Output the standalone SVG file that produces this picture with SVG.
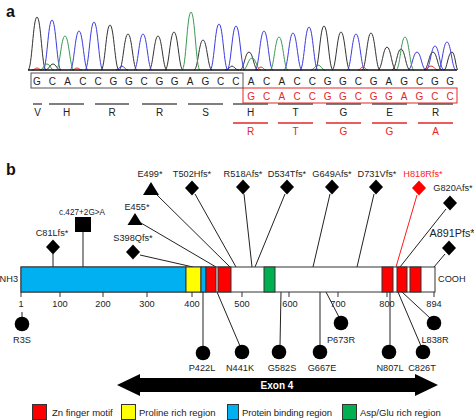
<svg xmlns="http://www.w3.org/2000/svg" width="474" height="420" viewBox="0 0 474 420">
<style>
text{font-family:"Liberation Sans",Arial,sans-serif;fill:#222}
.lbl{font-size:9.2px;text-anchor:middle}
.seq{font-size:10px;text-anchor:middle;fill:#333}
.red{fill:#e52626}
.pk{fill:none;stroke-width:1}
.k{stroke:#333}
.b{stroke:#3b3be0}
.g{stroke:#3a9a50}
.r{stroke:#e03030}
.stem{stroke:#222;stroke-width:1;fill:none}
.reg{stroke:#333;stroke-width:1}
</style>
<defs>
<path id="dia" d="M0,-7.5 L7,0 L0,7.5 L-7,0 Z"/>
</defs>
<text x="6" y="17" style="font-size:16px;font-weight:bold;fill:#111">a</text>
<g id="chromatogram">
<g class="pk k">
<path d="M28,70 C32,70 33,17 37,17 C41,17 42,70 46,70"/>
<path d="M101,70 C105,70 106,25 110,25 C114,25 115,70 119,70"/>
<path d="M119,70 C123,70 124,34 128,34 C132,34 133,70 137,70"/>
<path d="M149,70 C153,70 154,36 158,36 C162,36 163,70 167,70"/>
<path d="M165,70 C169,70 170,32 174,32 C178,32 179,70 183,70"/>
<path d="M194,70 C198,70 199,40 203,40 C207,40 208,70 212,70"/>
<path d="M240,70 C244,70 245,52 249,52 C253,52 254,70 258,70"/>
<path d="M315,70 C319,70 320,26 324,26 C328,26 329,70 333,70"/>
<path d="M332,70 C336,70 337,32 341,32 C345,32 346,70 350,70"/>
<path d="M362,70 C366,70 367,33 371,33 C375,33 376,70 380,70"/>
<path d="M378,70 C382,70 383,47 387,47 C391,47 392,70 396,70"/>
<path d="M392,70 C396,70 397,49 401,49 C405,49 406,70 410,70"/>
<path d="M424,70 C428,70 429,52 433,52 C437,52 438,70 442,70"/>
<path d="M444,70 C447,70 448,52 452,52 C455,52 456,70 458,70"/>
<path d="M45,70 C49,70 50,64 53,64 C56,64 57,70 61,70"/>
<path d="M225,70 C229,70 230,66 232,66 C234,66 235,70 239,70"/>
</g>
<g class="pk b">
<path d="M43,70 C47,70 48,20 52,20 C56,20 57,70 61,70"/>
<path d="M70,70 C74,70 75,31 79,31 C83,31 84,70 88,70"/>
<path d="M85,70 C89,70 90,22 94,22 C98,22 99,70 103,70"/>
<path d="M134,70 C138,70 139,34 143,34 C147,34 148,70 152,70"/>
<path d="M210,70 C214,70 215,24 219,24 C223,24 224,70 228,70"/>
<path d="M227,70 C231,70 232,26 236,26 C240,26 241,70 245,70"/>
<path d="M255,70 C259,70 260,31 264,31 C268,31 269,70 273,70"/>
<path d="M284,70 C288,70 289,33 293,33 C297,33 298,70 302,70"/>
<path d="M300,70 C304,70 305,27 309,27 C313,27 314,70 318,70"/>
<path d="M347,70 C351,70 352,34 356,34 C360,34 361,70 365,70"/>
<path d="M408,70 C412,70 413,52 417,52 C421,52 422,70 426,70"/>
<path d="M426,70 C430,70 431,46 435,46 C439,46 440,70 444,70"/>
<path d="M438,70 C442,70 443,42 447,42 C451,42 452,70 456,70"/>
<path d="M116,70 C119,70 120,66 122,66 C124,66 125,70 128,70"/>
</g>
<g class="pk g">
<path d="M56,70 C60,70 61,36 65,36 C69,36 70,70 74,70"/>
<path d="M182,70 C186,70 187,12 191,12 C195,12 196,70 200,70"/>
<path d="M270,70 C274,70 275,37 279,37 C283,37 284,70 288,70"/>
<path d="M396,70 C400,70 401,37 405,37 C409,37 410,70 414,70"/>
<path d="M40,70 C43,70 44,64 47,64 C50,64 51,70 54,70"/>
<path d="M243,70 C247,70 248,58 252,58 C256,58 257,70 261,70"/>
<path d="M311,70 C314,70 315,65 318,65 C321,65 322,70 325,70"/>
</g>
<g class="pk r">
<path d="M32,70 C34,70 35,68 37,68 C39,68 40,70 42,70"/>
<path d="M72,70 C74,70 75,68 77,68 C79,68 80,70 82,70"/>
<path d="M256,70 C258,70 259,67 261,67 C263,67 264,70 266,70"/>
<path d="M358,70 C360,70 361,67 363,67 C365,67 366,70 368,70"/>
<path d="M424,70 C427,70 428,66 431,66 C434,66 435,70 438,70"/>
</g>
<line x1="28" y1="70" x2="457" y2="70" stroke="#111" stroke-width="1.6"/>
</g>
<g id="sequence">
<rect x="31" y="73" width="212" height="15" fill="none" stroke="#555" stroke-width="1"/>
<rect x="243" y="88" width="214" height="15" fill="none" stroke="#e52626" stroke-width="1"/>
<g class="seq">
<text x="37" y="85">G</text><text x="52.3" y="85">C</text><text x="67.6" y="85">A</text><text x="82.9" y="85">C</text><text x="98.2" y="85">C</text><text x="113.5" y="85">G</text><text x="128.8" y="85">G</text><text x="144.1" y="85">C</text><text x="159.4" y="85">G</text><text x="174.7" y="85">G</text><text x="190" y="85">A</text><text x="205.3" y="85">G</text><text x="220.6" y="85">C</text><text x="235.9" y="85">C</text>
<text x="251.2" y="85">A</text><text x="266.5" y="85">C</text><text x="281.8" y="85">A</text><text x="297.1" y="85">C</text><text x="312.4" y="85">C</text><text x="327.7" y="85">G</text><text x="343" y="85">G</text><text x="358.3" y="85">C</text><text x="373.6" y="85">G</text><text x="388.9" y="85">A</text><text x="404.2" y="85">G</text><text x="419.5" y="85">C</text><text x="434.8" y="85">G</text><text x="450.1" y="85">G</text>
</g>
<g class="seq">
<text x="251.2" y="100" class="red">G</text><text x="266.5" y="100" class="red">C</text><text x="281.8" y="100" class="red">A</text><text x="297.1" y="100" class="red">C</text><text x="312.4" y="100" class="red">C</text><text x="327.7" y="100" class="red">G</text><text x="343" y="100" class="red">G</text><text x="358.3" y="100" class="red">C</text><text x="373.6" y="100" class="red">G</text><text x="388.9" y="100" class="red">G</text><text x="404.2" y="100" class="red">A</text><text x="419.5" y="100" class="red">G</text><text x="434.8" y="100" class="red">C</text><text x="450.1" y="100" class="red">C</text>
</g>
<g stroke="#555" stroke-width="1.5">
<line x1="33" y1="104" x2="42" y2="104"/><line x1="49" y1="104" x2="84" y2="104"/><line x1="95" y1="104" x2="129" y2="104"/><line x1="142" y1="104" x2="177" y2="104"/><line x1="188" y1="104" x2="223" y2="104"/><line x1="233" y1="104" x2="268" y2="104"/><line x1="278" y1="104" x2="313" y2="104"/><line x1="326" y1="104" x2="361" y2="104"/><line x1="372" y1="104" x2="407" y2="104"/><line x1="418" y1="104" x2="453" y2="104"/>
</g>
<g class="seq">
<text x="37.5" y="116">V</text><text x="66.5" y="116">H</text><text x="112" y="116">R</text><text x="159.5" y="116">R</text><text x="205.5" y="116">S</text><text x="250.5" y="116">H</text><text x="295.5" y="116">T</text><text x="343.5" y="116">G</text><text x="389.5" y="116">E</text><text x="435.5" y="116">R</text>
</g>
<g stroke="#e52626" stroke-width="1.5">
<line x1="233" y1="123" x2="268" y2="123"/><line x1="278" y1="123" x2="313" y2="123"/><line x1="326" y1="123" x2="361" y2="123"/><line x1="372" y1="123" x2="407" y2="123"/><line x1="418" y1="123" x2="453" y2="123"/>
</g>
<g class="seq">
<text x="250.5" y="135" class="red">R</text><text x="295.5" y="135" class="red">T</text><text x="343.5" y="135" class="red">G</text><text x="389.5" y="135" class="red">G</text><text x="435.5" y="135" class="red">A</text>
</g>
</g>
<text x="6" y="175" style="font-size:16px;font-weight:bold;fill:#111">b</text>
<g id="connectors">
<line class="stem" x1="53" y1="254" x2="53" y2="267"/>
<line class="stem" x1="83" y1="232" x2="83" y2="267"/>
<line class="stem" x1="140" y1="255" x2="193" y2="267"/>
<line class="stem" x1="141" y1="223" x2="216" y2="267"/>
<line class="stem" x1="156" y1="194" x2="230" y2="267"/>
<line class="stem" x1="195" y1="194" x2="236" y2="267"/>
<line class="stem" x1="244" y1="194" x2="252" y2="267"/>
<line class="stem" x1="285" y1="194" x2="255" y2="267"/>
<line class="stem" x1="330" y1="194" x2="313" y2="267"/>
<line class="stem" x1="374" y1="194" x2="357" y2="267"/>
<line x1="417" y1="195" x2="396" y2="267" stroke="#ff1a1a" stroke-width="1"/>
<line class="stem" x1="446" y1="209" x2="400" y2="267"/>
<line class="stem" x1="445" y1="254" x2="434" y2="267"/>
<line class="stem" x1="22" y1="312" x2="22" y2="317"/>
<line class="stem" x1="203" y1="292" x2="203" y2="346"/>
<line class="stem" x1="217" y1="292" x2="240" y2="346"/>
<line class="stem" x1="281" y1="292" x2="280" y2="346"/>
<line class="stem" x1="320" y1="292" x2="320" y2="346"/>
<line class="stem" x1="326" y1="292" x2="339" y2="317"/>
<line class="stem" x1="390" y1="292" x2="390" y2="346"/>
<line class="stem" x1="398" y1="292" x2="421" y2="346"/>
<line class="stem" x1="402" y1="292" x2="430" y2="318"/>
</g>
<g id="protein">
<rect x="21" y="267" width="414" height="25" fill="#fff" class="reg"/>
<rect x="21" y="267" width="165" height="25" fill="#00b0f0" class="reg"/>
<rect x="186" y="267" width="15" height="25" fill="#ffff00" class="reg"/>
<rect x="201" y="267" width="5" height="25" fill="#00b0f0" class="reg"/>
<rect x="206" y="267" width="10" height="25" fill="#ff0000" class="reg"/>
<rect x="218" y="267" width="13" height="25" fill="#ff0000" class="reg"/>
<rect x="264" y="267" width="11" height="25" fill="#00b050" class="reg"/>
<rect x="382" y="267" width="11" height="25" fill="#ff0000" class="reg"/>
<rect x="397" y="267" width="10" height="25" fill="#ff0000" class="reg"/>
<rect x="410" y="267" width="11" height="25" fill="#ff0000" class="reg"/>
<text x="18" y="282" style="font-size:9.2px;text-anchor:end">NH3</text>
<text x="438" y="282" style="font-size:9.2px">COOH</text>
<g stroke="#333" stroke-width="1">
<line x1="21" y1="292" x2="21" y2="297"/><line x1="60" y1="292" x2="60" y2="297"/><line x1="103" y1="292" x2="103" y2="297"/><line x1="147" y1="292" x2="147" y2="297"/><line x1="192" y1="292" x2="192" y2="297"/><line x1="242" y1="292" x2="242" y2="297"/><line x1="289" y1="292" x2="289" y2="297"/><line x1="338" y1="292" x2="338" y2="297"/><line x1="387" y1="292" x2="387" y2="297"/><line x1="434" y1="292" x2="434" y2="297"/>
</g>
<g class="lbl">
<text x="21" y="307">1</text><text x="60" y="307">100</text><text x="103" y="307">200</text><text x="147" y="307">300</text><text x="192" y="307">400</text><text x="242" y="307">500</text><text x="290" y="307">600</text><text x="338" y="307">700</text><text x="387" y="307">800</text><text x="434" y="307">894</text>
</g>
</g>
<g id="m-C81Lfs"><use href="#dia" x="53" y="247"/><text class="lbl" x="52" y="236">C81Lfs*</text></g>
<g id="m-c427"><rect x="75" y="217" width="16" height="15" fill="#000"/><text class="lbl" x="82" y="215" textLength="46" lengthAdjust="spacingAndGlyphs">c.427+2G&gt;A</text></g>
<g id="m-S398Qfs"><use href="#dia" x="133" y="252"/><text class="lbl" x="133" y="240.5">S398Qfs*</text></g>
<g id="m-E455"><path d="M135,213 L142.5,225 L127.5,225 Z" fill="#000"/><text class="lbl" x="137" y="209.5">E455*</text></g>
<g id="m-E499"><path d="M151,182 L159,195 L143,195 Z" fill="#000"/><text class="lbl" x="150" y="177">E499*</text></g>
<g id="m-T502Hfs"><use href="#dia" x="192" y="188"/><text class="lbl" x="192" y="177">T502Hfs*</text></g>
<g id="m-R518Afs"><use href="#dia" x="243" y="187"/><text class="lbl" x="243" y="177">R518Afs*</text></g>
<g id="m-D534Tfs"><use href="#dia" x="287" y="187"/><text class="lbl" x="287" y="177">D534Tfs*</text></g>
<g id="m-G649Afs"><use href="#dia" x="332" y="187"/><text class="lbl" x="332" y="177">G649Afs*</text></g>
<g id="m-D731Vfs"><use href="#dia" x="376" y="187"/><text class="lbl" x="377" y="177">D731Vfs*</text></g>
<g id="m-H818Rfs"><use href="#dia" x="419" y="188" fill="#ff0000"/><text class="lbl" x="423" y="177" style="fill:#ff1a1a">H818Rfs*</text></g>
<g id="m-G820Afs"><use href="#dia" x="450" y="203"/><text class="lbl" x="453" y="191">G820Afs*</text></g>
<g id="m-A891Pfs"><use href="#dia" x="449" y="248"/><text class="lbl" x="452" y="237" style="font-size:10.8px">A891Pfs*</text></g>
<g id="m-R3S"><circle cx="22" cy="324" r="7.3" fill="#000"/><text class="lbl" x="22" y="343">R3S</text></g>
<g id="m-P422L"><circle cx="203" cy="353" r="7.3" fill="#000"/><text class="lbl" x="202" y="371">P422L</text></g>
<g id="m-N441K"><circle cx="242" cy="352" r="7.3" fill="#000"/><text class="lbl" x="240" y="371">N441K</text></g>
<g id="m-G582S"><circle cx="279" cy="352" r="7.3" fill="#000"/><text class="lbl" x="282" y="371">G582S</text></g>
<g id="m-G667E"><circle cx="320" cy="352" r="7.3" fill="#000"/><text class="lbl" x="322" y="371">G667E</text></g>
<g id="m-P673R"><circle cx="341" cy="323" r="7.3" fill="#000"/><text class="lbl" x="341" y="342.5">P673R</text></g>
<g id="m-N807L"><circle cx="389" cy="352" r="7.3" fill="#000"/><text class="lbl" x="390" y="371">N807L</text></g>
<g id="m-C826T"><circle cx="423" cy="352" r="7.3" fill="#000"/><text class="lbl" x="422" y="371">C826T</text></g>
<g id="m-L838R"><circle cx="434" cy="323" r="7.3" fill="#000"/><text class="lbl" x="435" y="342.5">L838R</text></g>
<g id="exon4">
<path d="M117,385 L140,374 L140,378 L415,378 L415,374 L438,385 L415,396 L415,392 L140,392 L140,396 Z" fill="#000"/>
<text x="277" y="389" style="font-size:10px;font-weight:bold;fill:#fff;text-anchor:middle">Exon 4</text>
</g>
<g id="legend">
<rect x="32.5" y="404.5" width="14" height="15" fill="#ff0000" stroke="#333"/>
<text x="52" y="415.5" style="font-size:9.5px">Zn finger motif</text>
<rect x="121.5" y="404.5" width="14" height="15" fill="#ffff00" stroke="#333"/>
<text x="139" y="415.5" style="font-size:9.5px">Proline rich region</text>
<rect x="227.5" y="404.5" width="11" height="15" fill="#00b0f0" stroke="#333"/>
<text x="242" y="415.5" style="font-size:9.5px" textLength="90">Protein binding region</text>
<rect x="342.5" y="404.5" width="14" height="15" fill="#00b050" stroke="#333"/>
<text x="360" y="415.5" style="font-size:9.5px">Asp/Glu rich region</text>
</g>
</svg>
